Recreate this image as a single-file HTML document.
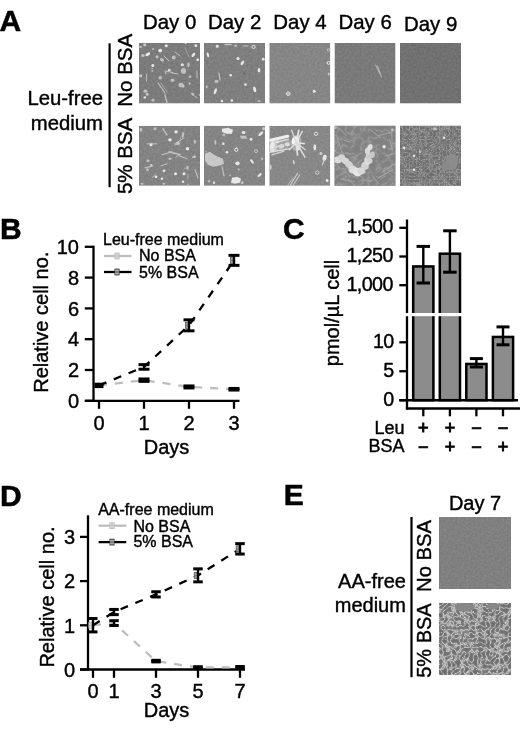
<!DOCTYPE html>
<html><head><meta charset="utf-8"><title>Figure</title>
<style>html,body{margin:0;padding:0;background:#fff;}svg{display:block;}</style>
</head><body>
<svg width="520" height="741" viewBox="0 0 520 741" font-family='"Liberation Sans", Arial, sans-serif'><rect width="520" height="741" fill="#fff"/><text x="-0.5" y="31" font-size="30" text-anchor="start" font-weight="bold" fill="#000" stroke="#000" stroke-width="0.5" >A</text><text x="169.7" y="28.5" font-size="20.4" text-anchor="middle" font-weight="normal" fill="#000" stroke="#000" stroke-width="0.4" >Day 0</text><text x="234.7" y="28.5" font-size="20.4" text-anchor="middle" font-weight="normal" fill="#000" stroke="#000" stroke-width="0.4" >Day 2</text><text x="300.0" y="28.5" font-size="20.4" text-anchor="middle" font-weight="normal" fill="#000" stroke="#000" stroke-width="0.4" >Day 4</text><text x="365.2" y="28.5" font-size="20.4" text-anchor="middle" font-weight="normal" fill="#000" stroke="#000" stroke-width="0.4" >Day 6</text><text x="430.7" y="30.7" font-size="20.4" text-anchor="middle" font-weight="normal" fill="#000" stroke="#000" stroke-width="0.4" >Day 9</text><clipPath id="c1"><rect x="139" y="43" width="61" height="60.5"/></clipPath><g clip-path="url(#c1)"><rect x="139" y="43" width="61" height="60.5" fill="#7c7c7c"/><rect x="139" y="43" width="61" height="60.5" filter="url(#grain)"/><g filter="url(#soft1)"><circle cx="147.2" cy="94.3" r="1.5" fill="#c3c3c3"/><circle cx="169.2" cy="70.2" r="1.4" fill="#d9d9d9"/><circle cx="144.7" cy="44.7" r="1.5" fill="#cacaca"/><circle cx="185.5" cy="43.1" r="1.1" fill="#d6d6d6"/><circle cx="153.0" cy="100.2" r="1.6" fill="#bababa"/><circle cx="140.6" cy="75.8" r="1.6" fill="#c8c8c8"/><circle cx="152.2" cy="68.5" r="0.7" fill="#c2c2c2"/><circle cx="165.7" cy="73.0" r="0.9" fill="#c2c2c2"/><circle cx="152.3" cy="70.8" r="1.0" fill="#bababa"/><circle cx="190.1" cy="76.7" r="1.3" fill="#c0c0c0"/><circle cx="199.5" cy="95.0" r="0.8" fill="#c6c6c6"/><circle cx="183.0" cy="86.0" r="1.6" fill="#cacaca"/><circle cx="189.6" cy="83.6" r="1.0" fill="#d1d1d1"/><circle cx="192.8" cy="94.2" r="1.2" fill="#d1d1d1"/><ellipse cx="0" cy="0" rx="1.5" ry="1.5" fill="#e8e8e8" transform="translate(166.3,45.7) rotate(0)"/><ellipse cx="0" cy="0" rx="1.2" ry="1.2" fill="#c0c0c0" transform="translate(140.5,46.9) rotate(0)"/><ellipse cx="0" cy="0" rx="1.4" ry="1.4" fill="#e8e8e8" transform="translate(195.8,45.7) rotate(0)"/><ellipse cx="0" cy="0" rx="2" ry="1.8" fill="#e8e8e8" transform="translate(160.2,50.6) rotate(0)"/><ellipse cx="0" cy="0" rx="2.6" ry="1.5" fill="#e8e8e8" transform="translate(147.8,54.3) rotate(-30)"/><ellipse cx="0" cy="0" rx="1.8" ry="1.6" fill="#c0c0c0" transform="translate(142.9,55.5) rotate(0)"/><ellipse cx="0" cy="0" rx="1.6" ry="1.6" fill="#c0c0c0" transform="translate(157.0,56.8) rotate(0)"/><ellipse cx="0" cy="0" rx="1.5" ry="1.5" fill="#e8e8e8" transform="translate(152.8,65.4) rotate(0)"/><ellipse cx="0" cy="0" rx="2.2" ry="1.6" fill="#c0c0c0" transform="translate(162.0,59.8) rotate(30)"/><line x1="164.0" y1="56.0" x2="169.0" y2="61.0" stroke="#c0c0c0" stroke-width="1" stroke-linecap="round"/><ellipse cx="0" cy="0" rx="2" ry="2" fill="#c0c0c0" transform="translate(173.7,57.4) rotate(0)"/><line x1="175.0" y1="52.0" x2="180.0" y2="56.0" stroke="#c0c0c0" stroke-width="1" stroke-linecap="round"/><ellipse cx="0" cy="0" rx="1.5" ry="1.5" fill="#e8e8e8" transform="translate(182.3,64.8) rotate(0)"/><ellipse cx="0" cy="0" rx="2.5" ry="1.3" fill="#e8e8e8" transform="translate(193.4,54.9) rotate(-50)"/><ellipse cx="0" cy="0" rx="1.4" ry="1.4" fill="#e8e8e8" transform="translate(197.7,59.8) rotate(0)"/><ellipse cx="0" cy="0" rx="1.2" ry="2.6" fill="#c0c0c0" transform="translate(188.5,64.8) rotate(0)"/><ellipse cx="0" cy="0" rx="2.6" ry="2.8" fill="#c0c0c0" transform="translate(183.5,70.9) rotate(0)"/><line x1="165.0" y1="71.0" x2="173.0" y2="72.5" stroke="#c0c0c0" stroke-width="1.1" stroke-linecap="round"/><line x1="172.0" y1="73.0" x2="178.0" y2="74.0" stroke="#c0c0c0" stroke-width="1" stroke-linecap="round"/><ellipse cx="0" cy="0" rx="1.8" ry="1.8" fill="#c0c0c0" transform="translate(160.2,77.7) rotate(0)"/><ellipse cx="0" cy="0" rx="2.6" ry="2.2" fill="#c0c0c0" transform="translate(181.0,85.0) rotate(0)"/><ellipse cx="0" cy="0" rx="2" ry="1.8" fill="#c0c0c0" transform="translate(172.5,80.2) rotate(0)"/><line x1="146.6" y1="74.0" x2="146.6" y2="81.0" stroke="#c0c0c0" stroke-width="1" stroke-linecap="round"/><line x1="158.0" y1="83.0" x2="165.0" y2="93.0" stroke="#c0c0c0" stroke-width="1.2" stroke-linecap="round"/><line x1="161.0" y1="83.0" x2="167.0" y2="92.0" stroke="#aaaaaa" stroke-width="1" stroke-linecap="round"/><ellipse cx="0" cy="0" rx="2" ry="1.6" fill="#c0c0c0" transform="translate(145.4,91.2) rotate(0)"/><ellipse cx="0" cy="0" rx="1.2" ry="1.2" fill="#e8e8e8" transform="translate(144.8,97.4) rotate(0)"/><line x1="165.0" y1="95.0" x2="167.0" y2="103.0" stroke="#c0c0c0" stroke-width="1.4" stroke-linecap="round"/><line x1="191.0" y1="93.0" x2="197.0" y2="98.0" stroke="#c0c0c0" stroke-width="1" stroke-linecap="round"/><line x1="197.0" y1="71.0" x2="197.0" y2="78.0" stroke="#c0c0c0" stroke-width="1" stroke-linecap="round"/><line x1="185.0" y1="48.0" x2="189.0" y2="57.0" stroke="#a0a0a0" stroke-width="1" stroke-linecap="round"/><ellipse cx="0" cy="0" rx="1" ry="1" fill="#c0c0c0" transform="translate(153.0,49.0) rotate(0)"/></g></g><clipPath id="c2"><rect x="204" y="43" width="61" height="60.5"/></clipPath><g clip-path="url(#c2)"><rect x="204" y="43" width="61" height="60.5" fill="#7f7f7f"/><rect x="204" y="43" width="61" height="60.5" filter="url(#grain)"/><g filter="url(#soft2)"><ellipse cx="0" cy="0" rx="1.5" ry="1.5" fill="#e8e8e8" transform="translate(217.2,46.3) rotate(0)"/><line x1="225.0" y1="44.5" x2="231.0" y2="44.5" stroke="#c0c0c0" stroke-width="1.6" stroke-linecap="round"/><ellipse cx="0" cy="0" rx="1.2" ry="1.2" fill="#c0c0c0" transform="translate(235.6,45.7) rotate(0)"/><line x1="243.0" y1="46.0" x2="248.0" y2="46.0" stroke="#c0c0c0" stroke-width="1" stroke-linecap="round"/><circle cx="253.5" cy="46.9" r="1.6" fill="none" stroke="#e8e8e8" stroke-width="1"/><ellipse cx="0" cy="0" rx="1.2" ry="2.4" fill="#e8e8e8" transform="translate(207.9,54.9) rotate(-15)"/><ellipse cx="0" cy="0" rx="1.6" ry="1.6" fill="#e8e8e8" transform="translate(238.0,58.6) rotate(0)"/><ellipse cx="0" cy="0" rx="1.3" ry="2.6" fill="#e8e8e8" transform="translate(242.4,62.9) rotate(35)"/><ellipse cx="0" cy="0" rx="1.4" ry="1.4" fill="#e8e8e8" transform="translate(263.3,59.2) rotate(0)"/><ellipse cx="0" cy="0" rx="1.3" ry="2.2" fill="#e8e8e8" transform="translate(259.0,70.3) rotate(0)"/><ellipse cx="0" cy="0" rx="1.3" ry="1.3" fill="#e8e8e8" transform="translate(230.7,75.2) rotate(0)"/><line x1="219.0" y1="73.0" x2="220.0" y2="80.0" stroke="#c0c0c0" stroke-width="1.2" stroke-linecap="round"/><ellipse cx="0" cy="0" rx="2" ry="1.6" fill="#c0c0c0" transform="translate(216.5,81.4) rotate(0)"/><ellipse cx="0" cy="0" rx="1.3" ry="3.2" fill="#e8e8e8" transform="translate(215.3,91.2) rotate(20)"/><ellipse cx="0" cy="0" rx="1" ry="1.4" fill="#c0c0c0" transform="translate(206.7,86.9) rotate(0)"/><ellipse cx="0" cy="0" rx="1.3" ry="1.3" fill="#e8e8e8" transform="translate(245.5,84.5) rotate(0)"/><ellipse cx="0" cy="0" rx="1.5" ry="3" fill="#e8e8e8" transform="translate(254.7,89.4) rotate(-15)"/><ellipse cx="0" cy="0" rx="1.2" ry="1.2" fill="#e8e8e8" transform="translate(222.0,101.0) rotate(0)"/><ellipse cx="0" cy="0" rx="1.3" ry="1.3" fill="#e8e8e8" transform="translate(231.9,100.5) rotate(0)"/><ellipse cx="0" cy="0" rx="1.5" ry="1" fill="#c0c0c0" transform="translate(259.0,101.0) rotate(0)"/><ellipse cx="0" cy="0" rx="1.5" ry="1.5" fill="#6e6e6e" transform="translate(244.2,73.4) rotate(0)"/></g></g><clipPath id="c3"><rect x="269.3" y="43" width="61" height="60.5"/></clipPath><g clip-path="url(#c3)"><rect x="269.3" y="43" width="61" height="60.5" fill="#878787"/><rect x="269.3" y="43" width="61" height="60.5" filter="url(#grain)"/><g filter="url(#soft3)"><circle cx="288.3" cy="93.7" r="1.8" fill="none" stroke="#e8e8e8" stroke-width="1"/><ellipse cx="0" cy="0" rx="1.2" ry="1.2" fill="#c0c0c0" transform="translate(288.3,93.7) rotate(0)"/><ellipse cx="0" cy="0" rx="1.5" ry="1.5" fill="#e8e8e8" transform="translate(314.2,91.2) rotate(0)"/><circle cx="328.6" cy="50.0" r="1.3" fill="none" stroke="#c0c0c0" stroke-width="1"/><circle cx="328.6" cy="62.9" r="1.5" fill="none" stroke="#e8e8e8" stroke-width="1"/><ellipse cx="0" cy="0" rx="1.1" ry="1.5" fill="#c0c0c0" transform="translate(328.9,74.0) rotate(0)"/></g></g><clipPath id="c4"><rect x="334.5" y="43" width="61" height="60.5"/></clipPath><g clip-path="url(#c4)"><rect x="334.5" y="43" width="61" height="60.5" fill="#7a7a7a"/><rect x="334.5" y="43" width="61" height="60.5" filter="url(#grain)"/><g filter="url(#soft4)"><line x1="375.5" y1="65.0" x2="381.5" y2="77.0" stroke="#aaaaaa" stroke-width="1.2" stroke-linecap="round"/><line x1="377.5" y1="66.0" x2="380.5" y2="74.0" stroke="#c8c8c8" stroke-width="0.8" stroke-linecap="round"/></g></g><clipPath id="c5"><rect x="400" y="43" width="61" height="60.5"/></clipPath><g clip-path="url(#c5)"><rect x="400" y="43" width="61" height="60.5" fill="#707070"/><rect x="400" y="43" width="61" height="60.5" filter="url(#grain)"/><g filter="url(#soft5)"></g></g><clipPath id="c6"><rect x="139" y="125.8" width="61" height="60"/></clipPath><g clip-path="url(#c6)"><rect x="139" y="125.8" width="61" height="60" fill="#848484"/><rect x="139" y="125.8" width="61" height="60" filter="url(#grain)"/><g filter="url(#soft6)"><line x1="187.4" y1="175.1" x2="187.6" y2="179.7" stroke="#a0a0a0" stroke-width="0.9" stroke-linecap="round"/><line x1="179.4" y1="154.0" x2="175.6" y2="157.6" stroke="#bfbfbf" stroke-width="0.9" stroke-linecap="round"/><line x1="155.6" y1="173.9" x2="152.0" y2="178.0" stroke="#b6b6b6" stroke-width="0.9" stroke-linecap="round"/><line x1="180.6" y1="137.4" x2="179.3" y2="145.1" stroke="#ababab" stroke-width="0.9" stroke-linecap="round"/><line x1="188.0" y1="166.9" x2="183.6" y2="169.3" stroke="#a4a4a4" stroke-width="0.9" stroke-linecap="round"/><line x1="187.8" y1="174.1" x2="188.4" y2="177.6" stroke="#a8a8a8" stroke-width="0.9" stroke-linecap="round"/><circle cx="177.7" cy="143.3" r="1.7" fill="#cccccc"/><circle cx="151.3" cy="165.1" r="1.1" fill="#d9d9d9"/><circle cx="194.5" cy="156.7" r="1.3" fill="#d0d0d0"/><circle cx="188.1" cy="184.4" r="0.7" fill="#c2c2c2"/><circle cx="175.7" cy="144.1" r="1.3" fill="#b8b8b8"/><circle cx="192.7" cy="157.3" r="0.8" fill="#cfcfcf"/><ellipse cx="0" cy="0" rx="1.5" ry="2" fill="#c0c0c0" transform="translate(141.0,129.8) rotate(0)"/><ellipse cx="0" cy="0" rx="1.5" ry="1.5" fill="#c0c0c0" transform="translate(155.0,128.8) rotate(0)"/><line x1="163.0" y1="128.8" x2="167.0" y2="134.8" stroke="#c0c0c0" stroke-width="1.5" stroke-linecap="round"/><ellipse cx="0" cy="0" rx="1.8" ry="1.6" fill="#e8e8e8" transform="translate(176.0,131.8) rotate(0)"/><ellipse cx="0" cy="0" rx="1.2" ry="3" fill="#c0c0c0" transform="translate(183.0,134.8) rotate(10)"/><ellipse cx="0" cy="0" rx="1.8" ry="1.6" fill="#e8e8e8" transform="translate(170.0,139.8) rotate(0)"/><line x1="178.0" y1="141.8" x2="184.0" y2="137.8" stroke="#c0c0c0" stroke-width="1" stroke-linecap="round"/><ellipse cx="0" cy="0" rx="1.3" ry="2" fill="#c0c0c0" transform="translate(195.0,141.8) rotate(0)"/><line x1="147.0" y1="143.8" x2="157.0" y2="143.8" stroke="#c0c0c0" stroke-width="1" stroke-linecap="round"/><ellipse cx="0" cy="0" rx="1.5" ry="1.5" fill="#e8e8e8" transform="translate(151.0,144.8) rotate(0)"/><ellipse cx="0" cy="0" rx="1.7" ry="1.7" fill="#e8e8e8" transform="translate(187.5,148.8) rotate(0)"/><line x1="162.0" y1="154.8" x2="172.0" y2="151.8" stroke="#c0c0c0" stroke-width="1.2" stroke-linecap="round"/><line x1="169.0" y1="151.8" x2="180.0" y2="154.8" stroke="#c0c0c0" stroke-width="1.4" stroke-linecap="round"/><line x1="179.0" y1="155.8" x2="187.0" y2="158.8" stroke="#c0c0c0" stroke-width="1.2" stroke-linecap="round"/><ellipse cx="0" cy="0" rx="1.5" ry="1.2" fill="#c0c0c0" transform="translate(170.0,158.8) rotate(0)"/><ellipse cx="0" cy="0" rx="1.6" ry="1.4" fill="#c0c0c0" transform="translate(148.0,160.8) rotate(0)"/><line x1="145.0" y1="167.8" x2="153.0" y2="165.8" stroke="#c0c0c0" stroke-width="1.2" stroke-linecap="round"/><ellipse cx="0" cy="0" rx="1.5" ry="1.5" fill="#c0c0c0" transform="translate(147.5,169.8) rotate(0)"/><line x1="161.0" y1="165.8" x2="167.0" y2="163.8" stroke="#c0c0c0" stroke-width="1" stroke-linecap="round"/><ellipse cx="0" cy="0" rx="1.3" ry="2" fill="#c0c0c0" transform="translate(187.5,167.8) rotate(0)"/><ellipse cx="0" cy="0" rx="1.4" ry="1.4" fill="#e8e8e8" transform="translate(164.0,170.8) rotate(0)"/><ellipse cx="0" cy="0" rx="1.5" ry="1.5" fill="#e8e8e8" transform="translate(175.5,173.8) rotate(0)"/><ellipse cx="0" cy="0" rx="1.5" ry="1.5" fill="#e8e8e8" transform="translate(184.0,173.8) rotate(0)"/><ellipse cx="0" cy="0" rx="1.4" ry="1.4" fill="#e8e8e8" transform="translate(156.0,176.8) rotate(0)"/><ellipse cx="0" cy="0" rx="1.3" ry="1.3" fill="#e8e8e8" transform="translate(162.0,178.8) rotate(0)"/><ellipse cx="0" cy="0" rx="1.2" ry="1.2" fill="#e8e8e8" transform="translate(183.0,181.8) rotate(0)"/><line x1="195.0" y1="169.8" x2="198.0" y2="177.8" stroke="#c0c0c0" stroke-width="1.2" stroke-linecap="round"/><ellipse cx="0" cy="0" rx="1.5" ry="1" fill="#c0c0c0" transform="translate(164.0,183.8) rotate(0)"/><ellipse cx="0" cy="0" rx="1.5" ry="1" fill="#c0c0c0" transform="translate(142.0,183.8) rotate(0)"/></g></g><clipPath id="c7"><rect x="204" y="125.8" width="61" height="60"/></clipPath><g clip-path="url(#c7)"><rect x="204" y="125.8" width="61" height="60" fill="#858585"/><rect x="204" y="125.8" width="61" height="60" filter="url(#grain)"/><g filter="url(#soft7)"><circle cx="223.8" cy="134.9" r="1.4" fill="#bcbcbc"/><circle cx="236.7" cy="147.7" r="0.8" fill="#cdcdcd"/><circle cx="206.3" cy="151.8" r="0.8" fill="#bdbdbd"/><circle cx="229.9" cy="175.4" r="0.8" fill="#c2c2c2"/><circle cx="242.3" cy="182.7" r="1.3" fill="#c9c9c9"/><circle cx="263.6" cy="128.6" r="1.6" fill="#c5c5c5"/><polygon points="222.0,128.8 228.0,127.8 233.0,129.8 232.0,133.8 226.0,133.8 222.0,131.8" fill="#e8e8e8"/><ellipse cx="0" cy="0" rx="1.8" ry="1.5" fill="#e8e8e8" transform="translate(243.6,132.6) rotate(0)"/><polygon points="240.0,135.8 246.0,135.8 247.0,138.8 241.0,138.8" fill="#c0c0c0"/><ellipse cx="0" cy="0" rx="1.4" ry="1.4" fill="#e8e8e8" transform="translate(251.0,139.4) rotate(0)"/><ellipse cx="0" cy="0" rx="1.3" ry="3" fill="#e8e8e8" transform="translate(260.8,133.8) rotate(50)"/><ellipse cx="0" cy="0" rx="1.3" ry="1.3" fill="#e8e8e8" transform="translate(223.3,143.7) rotate(0)"/><ellipse cx="0" cy="0" rx="1" ry="2.6" fill="#c0c0c0" transform="translate(215.3,142.3) rotate(0)"/><circle cx="236.2" cy="149.8" r="1.6" fill="none" stroke="#e8e8e8" stroke-width="1"/><ellipse cx="0" cy="0" rx="1.3" ry="1.3" fill="#e8e8e8" transform="translate(227.0,152.3) rotate(0)"/><circle cx="256.0" cy="151.1" r="1.5" fill="none" stroke="#c0c0c0" stroke-width="1"/><polygon points="205.0,153.8 210.0,151.8 214.0,154.8 218.0,156.8 223.0,158.8 224.0,163.8 219.0,165.8 213.0,166.8 208.0,164.8 205.0,160.8" fill="#c8c8c8"/><ellipse cx="0" cy="0" rx="2.2" ry="1.8" fill="#e8e8e8" transform="translate(237.5,163.4) rotate(0)"/><ellipse cx="0" cy="0" rx="1.2" ry="2.5" fill="#e8e8e8" transform="translate(252.0,161.5) rotate(-40)"/><ellipse cx="0" cy="0" rx="1" ry="1" fill="#c0c0c0" transform="translate(238.7,169.5) rotate(0)"/><line x1="222.0" y1="166.8" x2="224.0" y2="175.8" stroke="#c0c0c0" stroke-width="1.2" stroke-linecap="round"/><ellipse cx="0" cy="0" rx="1.2" ry="2.6" fill="#e8e8e8" transform="translate(259.6,175.1) rotate(50)"/><polygon points="232.0,177.8 237.0,176.8 241.0,178.8 240.0,182.8 235.0,183.8 231.0,182.8" fill="#e8e8e8"/><ellipse cx="0" cy="0" rx="1.2" ry="1.2" fill="#e8e8e8" transform="translate(214.0,182.8) rotate(0)"/><ellipse cx="0" cy="0" rx="1.2" ry="1.2" fill="#c0c0c0" transform="translate(209.0,181.3) rotate(0)"/><ellipse cx="0" cy="0" rx="1" ry="1.5" fill="#c0c0c0" transform="translate(262.0,158.8) rotate(0)"/></g></g><clipPath id="c8"><rect x="269.3" y="125.8" width="61" height="60"/></clipPath><g clip-path="url(#c8)"><rect x="269.3" y="125.8" width="61" height="60" fill="#898989"/><rect x="269.3" y="125.8" width="61" height="60" filter="url(#grain)"/><g filter="url(#soft8)"><ellipse cx="0" cy="0" rx="11" ry="5" fill="#a5a5a5" transform="translate(281.3,144.8) rotate(-12)"/><ellipse cx="0" cy="0" rx="4" ry="6" fill="#c8c8c8" transform="translate(273.3,146.8) rotate(0)"/><ellipse cx="0" cy="0" rx="5" ry="8" fill="#afafaf" transform="translate(296.3,142.8) rotate(10)"/><line x1="270.3" y1="140.3" x2="287.7" y2="136.3" stroke="#f0f0f0" stroke-width="3.2" stroke-linecap="round"/><line x1="273.3" y1="142.8" x2="288.3" y2="139.3" stroke="#dcdcdc" stroke-width="1.6" stroke-linecap="round"/><ellipse cx="0" cy="0" rx="3.6" ry="4.5" fill="#f5f5f5" transform="translate(295.3,140.8) rotate(15)"/><ellipse cx="0" cy="0" rx="2.5" ry="3.5" fill="#e6e6e6" transform="translate(298.3,146.8) rotate(0)"/><line x1="296.3" y1="142.5" x2="298.8" y2="130.4" stroke="#ebebeb" stroke-width="1.6" stroke-linecap="round"/><line x1="296.3" y1="142.5" x2="302.3" y2="131.4" stroke="#e1e1e1" stroke-width="1.4" stroke-linecap="round"/><line x1="296.3" y1="142.5" x2="304.3" y2="143.7" stroke="#e6e6e6" stroke-width="1.5" stroke-linecap="round"/><line x1="296.3" y1="142.5" x2="304.9" y2="157.2" stroke="#dcdcdc" stroke-width="1.5" stroke-linecap="round"/><line x1="296.3" y1="142.5" x2="297.5" y2="154.8" stroke="#e1e1e1" stroke-width="1.7" stroke-linecap="round"/><line x1="296.3" y1="142.5" x2="291.6" y2="130.2" stroke="#d7d7d7" stroke-width="1.3" stroke-linecap="round"/><line x1="296.3" y1="142.5" x2="305.3" y2="149.8" stroke="#d7d7d7" stroke-width="1.2" stroke-linecap="round"/><line x1="296.3" y1="142.5" x2="289.3" y2="149.8" stroke="#dcdcdc" stroke-width="1.4" stroke-linecap="round"/><ellipse cx="0" cy="0" rx="2.4" ry="5.5" fill="#ebebeb" transform="translate(272.3,146.8) rotate(5)"/><line x1="269.3" y1="152.3" x2="290.1" y2="148.6" stroke="#e1e1e1" stroke-width="1.4" stroke-linecap="round"/><line x1="271.9" y1="154.8" x2="284.0" y2="151.1" stroke="#d7d7d7" stroke-width="1.3" stroke-linecap="round"/><line x1="270.3" y1="149.8" x2="281.3" y2="144.8" stroke="#d7d7d7" stroke-width="1.3" stroke-linecap="round"/><ellipse cx="0" cy="0" rx="3" ry="2" fill="#d7d7d7" transform="translate(281.3,146.3) rotate(-20)"/><ellipse cx="0" cy="0" rx="2.5" ry="2" fill="#dcdcdc" transform="translate(287.3,144.3) rotate(0)"/><ellipse cx="0" cy="0" rx="2" ry="1.6" fill="#e1e1e1" transform="translate(277.3,141.8) rotate(0)"/><circle cx="316.0" cy="133.8" r="1.7" fill="none" stroke="#e1e1e1" stroke-width="1"/><ellipse cx="0" cy="0" rx="1.4" ry="3" fill="#e6e6e6" transform="translate(314.8,147.3) rotate(0)"/><ellipse cx="0" cy="0" rx="2" ry="3.2" fill="#e6e6e6" transform="translate(324.6,157.8) rotate(10)"/><ellipse cx="0" cy="0" rx="1.5" ry="1.5" fill="#d2d2d2" transform="translate(320.9,153.5) rotate(0)"/><line x1="324.3" y1="159.8" x2="322.3" y2="164.8" stroke="#cdcdcd" stroke-width="1.2" stroke-linecap="round"/><ellipse cx="0" cy="0" rx="1" ry="2.2" fill="#cdcdcd" transform="translate(293.8,162.2) rotate(-10)"/><circle cx="317.3" cy="172.6" r="1.7" fill="none" stroke="#cdcdcd" stroke-width="1"/><ellipse cx="0" cy="0" rx="1.4" ry="1.4" fill="#f0f0f0" transform="translate(327.1,180.6) rotate(0)"/><line x1="290.2" y1="185.5" x2="297.5" y2="173.2" stroke="#cdcdcd" stroke-width="1.2" stroke-linecap="round"/><line x1="292.8" y1="185.8" x2="299.8" y2="174.8" stroke="#c8c8c8" stroke-width="1.1" stroke-linecap="round"/><line x1="287.3" y1="185.8" x2="293.3" y2="177.8" stroke="#bebebe" stroke-width="1" stroke-linecap="round"/><ellipse cx="0" cy="0" rx="1.2" ry="2.5" fill="#cdcdcd" transform="translate(270.5,167.1) rotate(0)"/></g></g><clipPath id="c9"><rect x="334.5" y="125.8" width="61" height="60"/></clipPath><g clip-path="url(#c9)"><rect x="334.5" y="125.8" width="61" height="60" fill="#828282"/><rect x="334.5" y="125.8" width="61" height="60" filter="url(#tx6)"/><g filter="url(#soft9)"><line x1="362.7" y1="148.2" x2="370.2" y2="151.7" stroke="#878787" stroke-width="0.9" stroke-linecap="round"/><line x1="365.2" y1="179.7" x2="371.3" y2="181.3" stroke="#a0a0a0" stroke-width="0.9" stroke-linecap="round"/><line x1="337.0" y1="148.5" x2="333.6" y2="153.1" stroke="#a4a4a4" stroke-width="0.9" stroke-linecap="round"/><line x1="344.1" y1="140.1" x2="349.8" y2="142.1" stroke="#acacac" stroke-width="0.9" stroke-linecap="round"/><line x1="370.5" y1="172.3" x2="373.2" y2="179.2" stroke="#8b8b8b" stroke-width="0.9" stroke-linecap="round"/><line x1="352.3" y1="166.3" x2="348.7" y2="170.5" stroke="#8b8b8b" stroke-width="0.9" stroke-linecap="round"/><line x1="350.8" y1="138.4" x2="355.8" y2="144.5" stroke="#8f8f8f" stroke-width="0.9" stroke-linecap="round"/><line x1="388.6" y1="178.6" x2="393.8" y2="179.5" stroke="#9b9b9b" stroke-width="0.9" stroke-linecap="round"/><ellipse cx="0" cy="0" rx="4.05" ry="3.51" fill="#dcdcdc" transform="translate(337.9,159.7) rotate(0)"/><ellipse cx="0" cy="0" rx="3.51" ry="2.97" fill="#d2d2d2" transform="translate(341.6,157.2) rotate(0)"/><ellipse cx="0" cy="0" rx="4.05" ry="3.24" fill="#d7d7d7" transform="translate(345.3,160.9) rotate(30)"/><ellipse cx="0" cy="0" rx="4.05" ry="3.51" fill="#d2d2d2" transform="translate(349.0,164.6) rotate(40)"/><ellipse cx="0" cy="0" rx="4.32" ry="4.05" fill="#dcdcdc" transform="translate(352.7,169.5) rotate(0)"/><ellipse cx="0" cy="0" rx="4.86" ry="4.32" fill="#e6e6e6" transform="translate(357.6,172.0) rotate(0)"/><ellipse cx="0" cy="0" rx="4.05" ry="3.51" fill="#d7d7d7" transform="translate(361.3,170.8) rotate(0)"/><ellipse cx="0" cy="0" rx="3.78" ry="4.05" fill="#d2d2d2" transform="translate(365.0,165.8) rotate(0)"/><ellipse cx="0" cy="0" rx="3.24" ry="4.05" fill="#dcdcdc" transform="translate(367.5,160.9) rotate(0)"/><ellipse cx="0" cy="0" rx="2.97" ry="3.78" fill="#cdcdcd" transform="translate(368.7,156.0) rotate(0)"/><ellipse cx="0" cy="0" rx="2.7" ry="3.38" fill="#d7d7d7" transform="translate(367.5,151.1) rotate(0)"/><ellipse cx="0" cy="0" rx="2.43" ry="3.24" fill="#e1e1e1" transform="translate(369.9,147.4) rotate(20)"/><ellipse cx="0" cy="0" rx="2.43" ry="3.24" fill="#c8c8c8" transform="translate(372.4,154.8) rotate(0)"/><ellipse cx="0" cy="0" rx="2.7" ry="2.7" fill="#d2d2d2" transform="translate(369.9,160.9) rotate(0)"/><ellipse cx="0" cy="0" rx="1.7" ry="1.7" fill="#e6e6e6" transform="translate(384.1,146.8) rotate(0)"/><line x1="338.5" y1="127.8" x2="346.5" y2="135.8" stroke="#a5a5a5" stroke-width="1" stroke-linecap="round"/><line x1="370.5" y1="129.8" x2="380.5" y2="137.8" stroke="#a5a5a5" stroke-width="1" stroke-linecap="round"/><line x1="378.5" y1="135.8" x2="392.5" y2="131.8" stroke="#a5a5a5" stroke-width="1" stroke-linecap="round"/><line x1="382.5" y1="171.8" x2="394.5" y2="163.8" stroke="#aaaaaa" stroke-width="1" stroke-linecap="round"/><line x1="378.5" y1="177.8" x2="392.5" y2="169.8" stroke="#aaaaaa" stroke-width="1" stroke-linecap="round"/><line x1="340.5" y1="178.8" x2="354.5" y2="181.8" stroke="#a5a5a5" stroke-width="1" stroke-linecap="round"/><line x1="385.5" y1="155.8" x2="394.5" y2="153.8" stroke="#a5a5a5" stroke-width="1" stroke-linecap="round"/><line x1="336.5" y1="135.8" x2="342.5" y2="153.8" stroke="#a0a0a0" stroke-width="1" stroke-linecap="round"/><line x1="389.5" y1="139.8" x2="392.5" y2="149.8" stroke="#a5a5a5" stroke-width="1" stroke-linecap="round"/><line x1="372.5" y1="175.8" x2="378.5" y2="183.8" stroke="#a5a5a5" stroke-width="1" stroke-linecap="round"/><ellipse cx="0" cy="0" rx="1.5" ry="1.5" fill="#bebebe" transform="translate(392.5,129.8) rotate(0)"/><ellipse cx="0" cy="0" rx="1.2" ry="1.2" fill="#bebebe" transform="translate(335.5,127.8) rotate(0)"/></g></g><clipPath id="c10"><rect x="400" y="125.8" width="61" height="60"/></clipPath><g clip-path="url(#c10)"><rect x="400" y="125.8" width="61" height="60" fill="#7a7a7a"/><rect x="400" y="125.8" width="61" height="60" filter="url(#tx9)"/><g filter="url(#soft10)"><ellipse cx="0" cy="0" rx="6" ry="8" fill="#8c8c8c" transform="translate(452.0,161.8) rotate(0)"/><ellipse cx="0" cy="0" rx="4" ry="5" fill="#888888" transform="translate(446.0,165.8) rotate(0)"/><ellipse cx="0" cy="0" rx="1.3" ry="1.3" fill="#e8e8e8" transform="translate(404.0,147.8) rotate(0)"/><ellipse cx="0" cy="0" rx="1.2" ry="1.2" fill="#e8e8e8" transform="translate(414.0,155.8) rotate(0)"/><ellipse cx="0" cy="0" rx="1.3" ry="1.3" fill="#e8e8e8" transform="translate(414.0,169.8) rotate(0)"/><ellipse cx="0" cy="0" rx="1.3" ry="1.3" fill="#e8e8e8" transform="translate(444.0,137.8) rotate(0)"/><ellipse cx="0" cy="0" rx="1.2" ry="1.2" fill="#c0c0c0" transform="translate(420.0,151.8) rotate(0)"/><ellipse cx="0" cy="0" rx="2" ry="1.5" fill="#c0c0c0" transform="translate(435.0,128.8) rotate(0)"/></g></g><line x1="109.6" y1="43.3" x2="109.6" y2="187.2" stroke="#000" stroke-width="2.2" /><text transform="translate(131.9,70.3) rotate(-90)" x="0" y="0" font-size="20.5" text-anchor="middle" stroke="#000" stroke-width="0.4">No BSA</text><text transform="translate(131.9,155.9) rotate(-90)" x="0" y="0" font-size="20.5" text-anchor="middle" stroke="#000" stroke-width="0.4">5% BSA</text><text x="103" y="105" font-size="20.3" text-anchor="end" font-weight="normal" fill="#000" stroke="#000" stroke-width="0.4" >Leu-free</text><text x="103" y="129.7" font-size="20.3" text-anchor="end" font-weight="normal" fill="#000" stroke="#000" stroke-width="0.4" >medium</text><text x="0" y="239" font-size="30" text-anchor="start" font-weight="bold" fill="#000" stroke="#000" stroke-width="0.5" >B</text><line x1="93.5" y1="245.7" x2="93.5" y2="401.9" stroke="#000" stroke-width="2.3" /><line x1="84.8" y1="400.8" x2="239.5" y2="400.8" stroke="#000" stroke-width="2.3" /><line x1="84.8" y1="400.8" x2="93.5" y2="400.8" stroke="#000" stroke-width="2.3" /><text x="79" y="408.0" font-size="20" text-anchor="end" font-weight="normal" fill="#000" stroke="#000" stroke-width="0.4" >0</text><line x1="84.8" y1="370.0" x2="93.5" y2="370.0" stroke="#000" stroke-width="2.3" /><text x="79" y="377.2" font-size="20" text-anchor="end" font-weight="normal" fill="#000" stroke="#000" stroke-width="0.4" >2</text><line x1="84.8" y1="339.2" x2="93.5" y2="339.2" stroke="#000" stroke-width="2.3" /><text x="79" y="346.4" font-size="20" text-anchor="end" font-weight="normal" fill="#000" stroke="#000" stroke-width="0.4" >4</text><line x1="84.8" y1="308.4" x2="93.5" y2="308.4" stroke="#000" stroke-width="2.3" /><text x="79" y="315.59999999999997" font-size="20" text-anchor="end" font-weight="normal" fill="#000" stroke="#000" stroke-width="0.4" >6</text><line x1="84.8" y1="277.6" x2="93.5" y2="277.6" stroke="#000" stroke-width="2.3" /><text x="79" y="284.8" font-size="20" text-anchor="end" font-weight="normal" fill="#000" stroke="#000" stroke-width="0.4" >8</text><line x1="84.8" y1="246.8" x2="93.5" y2="246.8" stroke="#000" stroke-width="2.3" /><text x="79" y="254.0" font-size="20" text-anchor="end" font-weight="normal" fill="#000" stroke="#000" stroke-width="0.4" >10</text><line x1="99" y1="400.8" x2="99" y2="408.8" stroke="#000" stroke-width="2.3" /><text x="99" y="430.3" font-size="20" text-anchor="middle" font-weight="normal" fill="#000" stroke="#000" stroke-width="0.4" >0</text><line x1="144" y1="400.8" x2="144" y2="408.8" stroke="#000" stroke-width="2.3" /><text x="144" y="430.3" font-size="20" text-anchor="middle" font-weight="normal" fill="#000" stroke="#000" stroke-width="0.4" >1</text><line x1="189" y1="400.8" x2="189" y2="408.8" stroke="#000" stroke-width="2.3" /><text x="189" y="430.3" font-size="20" text-anchor="middle" font-weight="normal" fill="#000" stroke="#000" stroke-width="0.4" >2</text><line x1="234" y1="400.8" x2="234" y2="408.8" stroke="#000" stroke-width="2.3" /><text x="234" y="430.3" font-size="20" text-anchor="middle" font-weight="normal" fill="#000" stroke="#000" stroke-width="0.4" >3</text><text x="166.5" y="453.5" font-size="20" text-anchor="middle" font-weight="normal" fill="#000" stroke="#000" stroke-width="0.4" >Days</text><text transform="translate(47.5,322.2) rotate(-90)" x="0" y="0" font-size="20" text-anchor="middle" stroke="#000" stroke-width="0.4">Relative cell no.</text><polyline points="99.0,385.4 144.0,380.2 189.0,386.9 234.0,389.2" fill="none" stroke="#bdbdbd" stroke-width="2.3" stroke-dasharray="8,8"/><polyline points="99.0,385.4 144.0,366.9 189.0,325.3 234.0,260.4" fill="none" stroke="#000" stroke-width="2.3" stroke-dasharray="8,8"/><rect x="185.4" y="322.34000000000003" width="4" height="6" fill="#a0a0a0" stroke="#505050" stroke-width="0.7"/><line x1="185.4" y1="325.34000000000003" x2="189.4" y2="325.34000000000003" stroke="#505050" stroke-width="0.6"/><rect x="230.4" y="257.35200000000003" width="4" height="6" fill="#a0a0a0" stroke="#505050" stroke-width="0.7"/><line x1="230.4" y1="260.35200000000003" x2="234.4" y2="260.35200000000003" stroke="#505050" stroke-width="0.6"/><line x1="99" y1="384.20000000000005" x2="99" y2="386.6" stroke="#000" stroke-width="2.4" /><line x1="94.5" y1="384.20000000000005" x2="103.5" y2="384.20000000000005" stroke="#000" stroke-width="3.0" /><line x1="94.5" y1="386.6" x2="103.5" y2="386.6" stroke="#000" stroke-width="3.0" /><line x1="144" y1="378.964" x2="144" y2="381.364" stroke="#000" stroke-width="2.4" /><line x1="138.5" y1="378.964" x2="149.5" y2="378.964" stroke="#000" stroke-width="3.0" /><line x1="138.5" y1="381.364" x2="149.5" y2="381.364" stroke="#000" stroke-width="3.0" /><line x1="189" y1="385.94" x2="189" y2="387.94" stroke="#000" stroke-width="2.4" /><line x1="183.5" y1="385.94" x2="194.5" y2="385.94" stroke="#000" stroke-width="3.0" /><line x1="183.5" y1="387.94" x2="194.5" y2="387.94" stroke="#000" stroke-width="3.0" /><line x1="234" y1="388.45" x2="234" y2="390.05" stroke="#000" stroke-width="2.4" /><line x1="228.5" y1="388.45" x2="239.5" y2="388.45" stroke="#000" stroke-width="3.0" /><line x1="228.5" y1="390.05" x2="239.5" y2="390.05" stroke="#000" stroke-width="3.0" /><line x1="144" y1="364.62" x2="144" y2="369.22" stroke="#000" stroke-width="2.4" /><line x1="138.5" y1="364.62" x2="149.5" y2="364.62" stroke="#000" stroke-width="3.0" /><line x1="138.5" y1="369.22" x2="149.5" y2="369.22" stroke="#000" stroke-width="3.0" /><line x1="189" y1="319.84000000000003" x2="189" y2="330.84000000000003" stroke="#000" stroke-width="2.4" /><line x1="183.5" y1="319.84000000000003" x2="194.5" y2="319.84000000000003" stroke="#000" stroke-width="3.0" /><line x1="183.5" y1="330.84000000000003" x2="194.5" y2="330.84000000000003" stroke="#000" stroke-width="3.0" /><line x1="234" y1="255.35200000000003" x2="234" y2="265.35200000000003" stroke="#000" stroke-width="2.4" /><line x1="228.5" y1="255.35200000000003" x2="239.5" y2="255.35200000000003" stroke="#000" stroke-width="3.0" /><line x1="228.5" y1="265.35200000000003" x2="239.5" y2="265.35200000000003" stroke="#000" stroke-width="3.0" /><text x="103" y="244.8" font-size="16" text-anchor="start" font-weight="normal" fill="#000" stroke="#000" stroke-width="0.4" >Leu-free medium</text><line x1="104" y1="256" x2="131.5" y2="256" stroke="#bdbdbd" stroke-width="2.3" /><line x1="104" y1="272" x2="131.5" y2="272" stroke="#000" stroke-width="2.3" /><rect x="114.9" y="253.1" width="4.2" height="5.8" fill="#e4e4e4" stroke="#b8b8b8" stroke-width="0.9"/><line x1="117" y1="253.1" x2="117" y2="258.9" stroke="#b8b8b8" stroke-width="0.7"/><line x1="114.9" y1="256" x2="119.1" y2="256" stroke="#b8b8b8" stroke-width="0.7"/><rect x="114.9" y="269.1" width="4.2" height="5.8" fill="#e4e4e4" stroke="#333" stroke-width="0.9"/><line x1="117" y1="269.1" x2="117" y2="274.9" stroke="#333" stroke-width="0.7"/><line x1="114.9" y1="272" x2="119.1" y2="272" stroke="#333" stroke-width="0.7"/><text x="139" y="261.4" font-size="16" text-anchor="start" font-weight="normal" fill="#000" stroke="#000" stroke-width="0.4" >No BSA</text><text x="139" y="277.5" font-size="16" text-anchor="start" font-weight="normal" fill="#000" stroke="#000" stroke-width="0.4" >5% BSA</text><text x="283" y="238.6" font-size="30" text-anchor="start" font-weight="bold" fill="#000" stroke="#000" stroke-width="0.5" >C</text><line x1="407" y1="219.5" x2="407" y2="409.6" stroke="#000" stroke-width="2.3" /><line x1="405.9" y1="408.5" x2="520" y2="408.5" stroke="#000" stroke-width="2.3" /><line x1="399.3" y1="285.2" x2="407" y2="285.2" stroke="#000" stroke-width="2.3" /><text x="392.8" y="290.8" font-size="19.7" text-anchor="end" font-weight="normal" fill="#000" stroke="#000" stroke-width="0.4" letter-spacing="-0.6">1,000</text><line x1="399.3" y1="256.5" x2="407" y2="256.5" stroke="#000" stroke-width="2.3" /><text x="392.8" y="262.1" font-size="19.7" text-anchor="end" font-weight="normal" fill="#000" stroke="#000" stroke-width="0.4" letter-spacing="-0.6">1,250</text><line x1="399.3" y1="227.79999999999998" x2="407" y2="227.79999999999998" stroke="#000" stroke-width="2.3" /><text x="392.8" y="233.39999999999998" font-size="19.7" text-anchor="end" font-weight="normal" fill="#000" stroke="#000" stroke-width="0.4" letter-spacing="-0.6">1,500</text><line x1="399.3" y1="400.2" x2="407" y2="400.2" stroke="#000" stroke-width="2.3" /><text x="393.6" y="406.0" font-size="19.7" text-anchor="end" font-weight="normal" fill="#000" stroke="#000" stroke-width="0.4" letter-spacing="-0.6">0</text><line x1="399.3" y1="371.25" x2="407" y2="371.25" stroke="#000" stroke-width="2.3" /><text x="393.6" y="377.05" font-size="19.7" text-anchor="end" font-weight="normal" fill="#000" stroke="#000" stroke-width="0.4" letter-spacing="-0.6">5</text><line x1="399.3" y1="342.3" x2="407" y2="342.3" stroke="#000" stroke-width="2.3" /><text x="393.6" y="348.1" font-size="19.7" text-anchor="end" font-weight="normal" fill="#000" stroke="#000" stroke-width="0.4" letter-spacing="-0.6">10</text><rect x="413.2" y="266.43960000000004" width="20.2" height="133.76039999999995" fill="#8c8c8c" stroke="#000" stroke-width="2.5"/><rect x="439.79999999999995" y="253.69679999999997" width="20.2" height="146.50320000000002" fill="#8c8c8c" stroke="#000" stroke-width="2.5"/><rect x="466.29999999999995" y="363.9545" width="20.2" height="36.24549999999999" fill="#8c8c8c" stroke="#000" stroke-width="2.5"/><rect x="492.9" y="336.931" width="20.2" height="63.269000000000005" fill="#8c8c8c" stroke="#000" stroke-width="2.5"/><rect x="400" y="313" width="120" height="3.2" fill="#fff"/><line x1="423.3" y1="246.4" x2="423.3" y2="283.0" stroke="#000" stroke-width="2.4" /><line x1="416.55" y1="246.4" x2="430.05" y2="246.4" stroke="#000" stroke-width="3.0" /><line x1="416.55" y1="283.0" x2="430.05" y2="283.0" stroke="#000" stroke-width="3.0" /><line x1="449.9" y1="230.8" x2="449.9" y2="272.2" stroke="#000" stroke-width="2.4" /><line x1="443.15" y1="230.8" x2="456.65" y2="230.8" stroke="#000" stroke-width="3.0" /><line x1="443.15" y1="272.2" x2="456.65" y2="272.2" stroke="#000" stroke-width="3.0" /><line x1="476.4" y1="358.6" x2="476.4" y2="367.0" stroke="#000" stroke-width="2.4" /><line x1="469.9" y1="358.6" x2="482.9" y2="358.6" stroke="#000" stroke-width="3.0" /><line x1="469.9" y1="367.0" x2="482.9" y2="367.0" stroke="#000" stroke-width="3.0" /><line x1="503.0" y1="326.9" x2="503.0" y2="344.8" stroke="#000" stroke-width="2.4" /><line x1="496.5" y1="326.9" x2="509.5" y2="326.9" stroke="#000" stroke-width="3.0" /><line x1="496.5" y1="344.8" x2="509.5" y2="344.8" stroke="#000" stroke-width="3.0" /><line x1="399.3" y1="400.2" x2="518" y2="400.2" stroke="#000" stroke-width="2.5" /><line x1="423.3" y1="408.5" x2="423.3" y2="416.3" stroke="#000" stroke-width="2.3" /><line x1="449.9" y1="408.5" x2="449.9" y2="416.3" stroke="#000" stroke-width="2.3" /><line x1="476.4" y1="408.5" x2="476.4" y2="416.3" stroke="#000" stroke-width="2.3" /><line x1="503.0" y1="408.5" x2="503.0" y2="416.3" stroke="#000" stroke-width="2.3" /><text x="404.6" y="433.8" font-size="18" text-anchor="end" font-weight="normal" fill="#000" stroke="#000" stroke-width="0.4" >Leu</text><text x="404.6" y="452.3" font-size="18" text-anchor="end" font-weight="normal" fill="#000" stroke="#000" stroke-width="0.4" >BSA</text><text x="423.3" y="434.1" font-size="18" text-anchor="middle" font-weight="normal" fill="#000" stroke="#000"  stroke-width="0.9">+</text><text x="423.3" y="452.6" font-size="18" text-anchor="middle" font-weight="normal" fill="#000" stroke="#000"  stroke-width="0.9">−</text><text x="449.9" y="434.1" font-size="18" text-anchor="middle" font-weight="normal" fill="#000" stroke="#000"  stroke-width="0.9">+</text><text x="449.9" y="452.6" font-size="18" text-anchor="middle" font-weight="normal" fill="#000" stroke="#000"  stroke-width="0.9">+</text><text x="476.4" y="434.1" font-size="18" text-anchor="middle" font-weight="normal" fill="#000" stroke="#000"  stroke-width="0.9">−</text><text x="476.4" y="452.6" font-size="18" text-anchor="middle" font-weight="normal" fill="#000" stroke="#000"  stroke-width="0.9">−</text><text x="503.0" y="434.1" font-size="18" text-anchor="middle" font-weight="normal" fill="#000" stroke="#000"  stroke-width="0.9">−</text><text x="503.0" y="452.6" font-size="18" text-anchor="middle" font-weight="normal" fill="#000" stroke="#000"  stroke-width="0.9">+</text><text transform="translate(339.2,313) rotate(-90)" x="0" y="0" font-size="20" text-anchor="middle" stroke="#000" stroke-width="0.4">pmol/µL cell</text><text x="0" y="505.9" font-size="30" text-anchor="start" font-weight="bold" fill="#000" stroke="#000" stroke-width="0.5" >D</text><line x1="88" y1="515.3" x2="88" y2="670.6" stroke="#000" stroke-width="2.3" /><line x1="80" y1="669.5" x2="245" y2="669.5" stroke="#000" stroke-width="2.3" /><line x1="80" y1="669.5" x2="88" y2="669.5" stroke="#000" stroke-width="2.3" /><text x="75" y="676.7" font-size="20" text-anchor="end" font-weight="normal" fill="#000" stroke="#000" stroke-width="0.4" >0</text><line x1="80" y1="625.3" x2="88" y2="625.3" stroke="#000" stroke-width="2.3" /><text x="75" y="632.5" font-size="20" text-anchor="end" font-weight="normal" fill="#000" stroke="#000" stroke-width="0.4" >1</text><line x1="80" y1="581.1" x2="88" y2="581.1" stroke="#000" stroke-width="2.3" /><text x="75" y="588.3000000000001" font-size="20" text-anchor="end" font-weight="normal" fill="#000" stroke="#000" stroke-width="0.4" >2</text><line x1="80" y1="536.9" x2="88" y2="536.9" stroke="#000" stroke-width="2.3" /><text x="75" y="544.1" font-size="20" text-anchor="end" font-weight="normal" fill="#000" stroke="#000" stroke-width="0.4" >3</text><line x1="93" y1="669.5" x2="93" y2="677.8" stroke="#000" stroke-width="2.3" /><text x="93" y="698" font-size="20" text-anchor="middle" font-weight="normal" fill="#000" stroke="#000" stroke-width="0.4" >0</text><line x1="114" y1="669.5" x2="114" y2="677.8" stroke="#000" stroke-width="2.3" /><text x="114" y="698" font-size="20" text-anchor="middle" font-weight="normal" fill="#000" stroke="#000" stroke-width="0.4" >1</text><line x1="156" y1="669.5" x2="156" y2="677.8" stroke="#000" stroke-width="2.3" /><text x="156" y="698" font-size="20" text-anchor="middle" font-weight="normal" fill="#000" stroke="#000" stroke-width="0.4" >3</text><line x1="198" y1="669.5" x2="198" y2="677.8" stroke="#000" stroke-width="2.3" /><text x="198" y="698" font-size="20" text-anchor="middle" font-weight="normal" fill="#000" stroke="#000" stroke-width="0.4" >5</text><line x1="240" y1="669.5" x2="240" y2="677.8" stroke="#000" stroke-width="2.3" /><text x="240" y="698" font-size="20" text-anchor="middle" font-weight="normal" fill="#000" stroke="#000" stroke-width="0.4" >7</text><text x="166.5" y="716.7" font-size="20" text-anchor="middle" font-weight="normal" fill="#000" stroke="#000" stroke-width="0.4" >Days</text><text transform="translate(53.8,597.0) rotate(-90)" x="0" y="0" font-size="20" text-anchor="middle" stroke="#000" stroke-width="0.4">Relative cell no.</text><polyline points="93.0,625.3 114.0,623.1 156.0,661.1 198.0,667.5 240.0,667.3" fill="none" stroke="#bdbdbd" stroke-width="2.3" stroke-dasharray="8,8"/><polyline points="93.0,625.3 114.0,612.0 156.0,594.4 198.0,575.4 240.0,548.8" fill="none" stroke="#000" stroke-width="2.3" stroke-dasharray="8,8"/><rect x="88.8" y="622.3" width="4" height="6" fill="#d8d8d8" stroke="#a8a8a8" stroke-width="0.7"/><line x1="88.8" y1="625.3" x2="92.8" y2="625.3" stroke="#a8a8a8" stroke-width="0.6"/><rect x="194.2" y="572.354" width="4" height="6" fill="#a0a0a0" stroke="#505050" stroke-width="0.7"/><line x1="194.2" y1="575.354" x2="198.2" y2="575.354" stroke="#505050" stroke-width="0.6"/><rect x="236.2" y="545.834" width="4" height="6" fill="#a0a0a0" stroke="#505050" stroke-width="0.7"/><line x1="236.2" y1="548.834" x2="240.2" y2="548.834" stroke="#505050" stroke-width="0.6"/><line x1="93" y1="618.5" x2="93" y2="631.9" stroke="#000" stroke-width="2.4" /><line x1="88.5" y1="618.5" x2="97.5" y2="618.5" stroke="#000" stroke-width="3.0" /><line x1="88.5" y1="631.9" x2="97.5" y2="631.9" stroke="#000" stroke-width="3.0" /><line x1="114" y1="609.4399999999999" x2="114" y2="614.64" stroke="#000" stroke-width="2.4" /><line x1="109.25" y1="609.4399999999999" x2="118.75" y2="609.4399999999999" stroke="#000" stroke-width="3.0" /><line x1="109.25" y1="614.64" x2="118.75" y2="614.64" stroke="#000" stroke-width="3.0" /><line x1="114" y1="620.69" x2="114" y2="625.49" stroke="#000" stroke-width="2.4" /><line x1="109.25" y1="620.69" x2="118.75" y2="620.69" stroke="#000" stroke-width="3.0" /><line x1="109.25" y1="625.49" x2="118.75" y2="625.49" stroke="#000" stroke-width="3.0" /><line x1="156" y1="591.76" x2="156" y2="596.96" stroke="#000" stroke-width="2.4" /><line x1="151.25" y1="591.76" x2="160.75" y2="591.76" stroke="#000" stroke-width="3.0" /><line x1="151.25" y1="596.96" x2="160.75" y2="596.96" stroke="#000" stroke-width="3.0" /><line x1="156" y1="660.302" x2="156" y2="661.9019999999999" stroke="#000" stroke-width="2.4" /><line x1="151.25" y1="660.302" x2="160.75" y2="660.302" stroke="#000" stroke-width="3.0" /><line x1="151.25" y1="661.9019999999999" x2="160.75" y2="661.9019999999999" stroke="#000" stroke-width="3.0" /><line x1="198" y1="568.854" x2="198" y2="581.854" stroke="#000" stroke-width="2.4" /><line x1="193.25" y1="568.854" x2="202.75" y2="568.854" stroke="#000" stroke-width="3.0" /><line x1="193.25" y1="581.854" x2="202.75" y2="581.854" stroke="#000" stroke-width="3.0" /><line x1="198" y1="666.711" x2="198" y2="668.3109999999999" stroke="#000" stroke-width="2.4" /><line x1="193.25" y1="666.711" x2="202.75" y2="666.711" stroke="#000" stroke-width="3.0" /><line x1="193.25" y1="668.3109999999999" x2="202.75" y2="668.3109999999999" stroke="#000" stroke-width="3.0" /><line x1="240" y1="543.6339999999999" x2="240" y2="554.034" stroke="#000" stroke-width="2.4" /><line x1="235.25" y1="543.6339999999999" x2="244.75" y2="543.6339999999999" stroke="#000" stroke-width="3.0" /><line x1="235.25" y1="554.034" x2="244.75" y2="554.034" stroke="#000" stroke-width="3.0" /><line x1="240" y1="666.49" x2="240" y2="668.0899999999999" stroke="#000" stroke-width="2.4" /><line x1="235.25" y1="666.49" x2="244.75" y2="666.49" stroke="#000" stroke-width="3.0" /><line x1="235.25" y1="668.0899999999999" x2="244.75" y2="668.0899999999999" stroke="#000" stroke-width="3.0" /><text x="98.2" y="515.4" font-size="16" text-anchor="start" font-weight="normal" fill="#000" stroke="#000" stroke-width="0.4" >AA-free medium</text><line x1="98.6" y1="525.7" x2="126.3" y2="525.7" stroke="#bdbdbd" stroke-width="2.3" /><line x1="98.6" y1="542.1" x2="126.3" y2="542.1" stroke="#000" stroke-width="2.3" /><rect x="109.9" y="522.8000000000001" width="4.2" height="5.8" fill="#e4e4e4" stroke="#b8b8b8" stroke-width="0.9"/><line x1="112" y1="522.8000000000001" x2="112" y2="528.6" stroke="#b8b8b8" stroke-width="0.7"/><line x1="109.9" y1="525.7" x2="114.1" y2="525.7" stroke="#b8b8b8" stroke-width="0.7"/><rect x="109.9" y="539.2" width="4.2" height="5.8" fill="#e4e4e4" stroke="#333" stroke-width="0.9"/><line x1="112" y1="539.2" x2="112" y2="545.0" stroke="#333" stroke-width="0.7"/><line x1="109.9" y1="542.1" x2="114.1" y2="542.1" stroke="#333" stroke-width="0.7"/><text x="133.4" y="531.5" font-size="16" text-anchor="start" font-weight="normal" fill="#000" stroke="#000" stroke-width="0.4" >No BSA</text><text x="133.4" y="547.3" font-size="16" text-anchor="start" font-weight="normal" fill="#000" stroke="#000" stroke-width="0.4" >5% BSA</text><text x="283.8" y="505.2" font-size="30" text-anchor="start" font-weight="bold" fill="#000" stroke="#000" stroke-width="0.5" >E</text><text x="475" y="510" font-size="20" text-anchor="middle" font-weight="normal" fill="#000" stroke="#000" stroke-width="0.4" >Day 7</text><clipPath id="c11"><rect x="439" y="517" width="72" height="72"/></clipPath><g clip-path="url(#c11)"><rect x="439" y="517" width="72" height="72" fill="#818181"/><rect x="439" y="517" width="72" height="72" filter="url(#grain)"/><g filter="url(#soft11)"><ellipse cx="0" cy="0" rx="0.8" ry="0.8" fill="#969696" transform="translate(445.0,530.0) rotate(0)"/><ellipse cx="0" cy="0" rx="0.7" ry="0.7" fill="#8c8c8c" transform="translate(497.0,577.0) rotate(0)"/></g></g><clipPath id="c12"><rect x="439" y="603" width="72" height="72"/></clipPath><g clip-path="url(#c12)"><rect x="439" y="603" width="72" height="72" fill="#888888"/><rect x="439" y="603" width="72" height="72" filter="url(#tx12)"/><g filter="url(#soft12)"><ellipse cx="0" cy="0" rx="10" ry="4.5" fill="#868686" transform="translate(465.0,607.0) rotate(0)"/><ellipse cx="0" cy="0" rx="6" ry="3.5" fill="#888888" transform="translate(493.0,606.0) rotate(0)"/></g></g><line x1="411.5" y1="517" x2="411.5" y2="677.2" stroke="#000" stroke-width="2.2" /><text x="405.9" y="587.6" font-size="20" text-anchor="end" font-weight="normal" fill="#000" stroke="#000" stroke-width="0.4" >AA-free</text><text x="405.9" y="611.6" font-size="20" text-anchor="end" font-weight="normal" fill="#000" stroke="#000" stroke-width="0.4" >medium</text><text transform="translate(431,556.0) rotate(-90)" x="0" y="0" font-size="20.2" text-anchor="middle" stroke="#000" stroke-width="0.4">No BSA</text><text transform="translate(431,640.6) rotate(-90)" x="0" y="0" font-size="20" text-anchor="middle" stroke="#000" stroke-width="0.4">5% BSA</text><defs><filter id="grain" x="0" y="0" width="1" height="1" color-interpolation-filters="sRGB"><feTurbulence type="fractalNoise" baseFrequency="0.45" numOctaves="2" seed="2"/><feColorMatrix type="matrix" values="1.4 0 0 0 -0.2  1.4 0 0 0 -0.2  1.4 0 0 0 -0.2  0 0 0 0 0.07"/><feGaussianBlur stdDeviation="0.6"/></filter><filter id="soft1" x="-10%" y="-10%" width="120%" height="120%"><feGaussianBlur stdDeviation="0.7"/></filter><filter id="soft2" x="-10%" y="-10%" width="120%" height="120%"><feGaussianBlur stdDeviation="0.7"/></filter><filter id="soft3" x="-10%" y="-10%" width="120%" height="120%"><feGaussianBlur stdDeviation="0.7"/></filter><filter id="soft4" x="-10%" y="-10%" width="120%" height="120%"><feGaussianBlur stdDeviation="0.7"/></filter><filter id="soft5" x="-10%" y="-10%" width="120%" height="120%"><feGaussianBlur stdDeviation="0.7"/></filter><filter id="soft6" x="-10%" y="-10%" width="120%" height="120%"><feGaussianBlur stdDeviation="0.7"/></filter><filter id="soft7" x="-10%" y="-10%" width="120%" height="120%"><feGaussianBlur stdDeviation="0.7"/></filter><filter id="soft8" x="-10%" y="-10%" width="120%" height="120%"><feGaussianBlur stdDeviation="0.7"/></filter><filter id="tx6" x="0" y="0" width="1" height="1" color-interpolation-filters="sRGB"><feTurbulence type="turbulence" baseFrequency="0.13" numOctaves="2" seed="11"/><feColorMatrix type="matrix" values="1 0 0 0 0  1 0 0 0 0  1 0 0 0 0  0 0 0 0 1"/><feComponentTransfer><feFuncR type="table" tableValues="0.62 0.57 0.53 0.515 0.51 0.505 0.5 0.5 0.5 0.5"/><feFuncG type="table" tableValues="0.62 0.57 0.53 0.515 0.51 0.505 0.5 0.5 0.5 0.5"/><feFuncB type="table" tableValues="0.62 0.57 0.53 0.515 0.51 0.505 0.5 0.5 0.5 0.5"/></feComponentTransfer><feGaussianBlur stdDeviation="0.6"/></filter><filter id="soft9" x="-10%" y="-10%" width="120%" height="120%"><feGaussianBlur stdDeviation="0.6"/></filter><filter id="tx9" x="0" y="0" width="1" height="1" color-interpolation-filters="sRGB"><feTurbulence type="turbulence" baseFrequency="0.3" numOctaves="2" seed="4"/><feColorMatrix type="matrix" values="1 0 0 0 0  1 0 0 0 0  1 0 0 0 0  0 0 0 0 1"/><feComponentTransfer><feFuncR type="table" tableValues="0.64 0.54 0.48 0.45 0.43 0.42 0.42 0.42 0.42"/><feFuncG type="table" tableValues="0.64 0.54 0.48 0.45 0.43 0.42 0.42 0.42 0.42"/><feFuncB type="table" tableValues="0.64 0.54 0.48 0.45 0.43 0.42 0.42 0.42 0.42"/></feComponentTransfer><feGaussianBlur stdDeviation="0.5"/></filter><filter id="soft10" x="-10%" y="-10%" width="120%" height="120%"><feGaussianBlur stdDeviation="0.7"/></filter><filter id="soft11" x="-10%" y="-10%" width="120%" height="120%"><feGaussianBlur stdDeviation="0.7"/></filter><filter id="tx12" x="0" y="0" width="1" height="1" color-interpolation-filters="sRGB"><feTurbulence type="turbulence" baseFrequency="0.23" numOctaves="1" seed="9"/><feColorMatrix type="matrix" values="1 0 0 0 0  1 0 0 0 0  1 0 0 0 0  0 0 0 0 1"/><feComponentTransfer><feFuncR type="table" tableValues="0.76 0.66 0.56 0.5 0.47 0.45 0.44 0.44 0.44 0.44 0.44 0.44 0.44 0.44 0.44 0.44"/><feFuncG type="table" tableValues="0.76 0.66 0.56 0.5 0.47 0.45 0.44 0.44 0.44 0.44 0.44 0.44 0.44 0.44 0.44 0.44"/><feFuncB type="table" tableValues="0.76 0.66 0.56 0.5 0.47 0.45 0.44 0.44 0.44 0.44 0.44 0.44 0.44 0.44 0.44 0.44"/></feComponentTransfer><feGaussianBlur stdDeviation="0.75"/></filter><filter id="soft12" x="-10%" y="-10%" width="120%" height="120%"><feGaussianBlur stdDeviation="0.7"/></filter></defs></svg>
</body></html>
